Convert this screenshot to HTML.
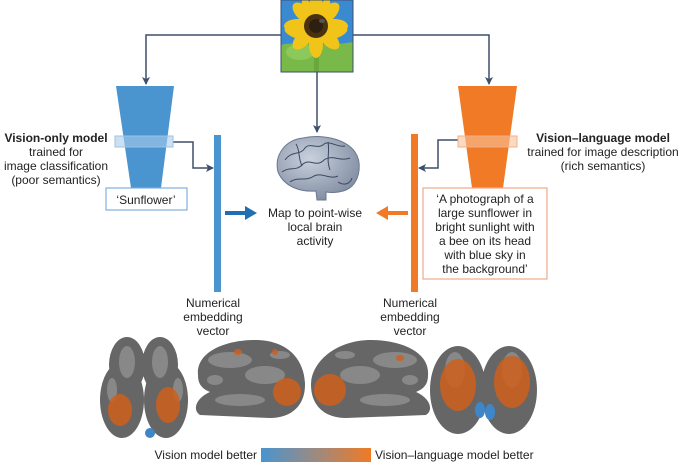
<!DOCTYPE html>
<html><head><meta charset="utf-8"><style>
html,body{margin:0;padding:0;background:#fff;}
svg{display:block;font-family:"Liberation Sans",sans-serif;}
</style></head><body>
<svg width="685" height="463" viewBox="0 0 685 463" xmlns="http://www.w3.org/2000/svg">
<defs>
<marker id="ah" markerWidth="8" markerHeight="8" refX="7" refY="4" orient="auto" markerUnits="userSpaceOnUse"><path d="M0,0 L8,4 L0,8 L2,4 Z" fill="#3d4f6b"/></marker>
<linearGradient id="cb" x1="0" x2="1"><stop offset="0" stop-color="#4a94cf"/><stop offset="0.5" stop-color="#9c8a80"/><stop offset="1" stop-color="#f07a25"/></linearGradient>
<radialGradient id="br" cx="0.4" cy="0.35" r="0.7"><stop offset="0" stop-color="#c9d1dd"/><stop offset="1" stop-color="#7f8ba0"/></radialGradient>
<clipPath id="imgc"><rect x="281" y="0" width="72" height="72"/></clipPath>
</defs>
<!-- sunflower image -->
<g clip-path="url(#imgc)">
<rect x="281" y="0" width="72" height="72" fill="#3a8ad2"/>
<path d="M281,45 C300,40 320,48 353,42 V72 H281 Z" fill="#78b94a"/>
<ellipse cx="300" cy="52" rx="14" ry="8" fill="#8cc95a"/>
<rect x="314" y="40" width="5" height="32" fill="#6aa83e"/>
<g fill="#f0c419">
<ellipse cx="316" cy="8" rx="7" ry="14"/><ellipse cx="316" cy="44" rx="7" ry="14"/>
<ellipse cx="298" cy="26" rx="14" ry="7"/><ellipse cx="334" cy="26" rx="14" ry="7"/>
<ellipse cx="303" cy="13" rx="7" ry="13" transform="rotate(-45 303 13)"/>
<ellipse cx="329" cy="13" rx="7" ry="13" transform="rotate(45 329 13)"/>
<ellipse cx="303" cy="39" rx="7" ry="13" transform="rotate(45 303 39)"/>
<ellipse cx="329" cy="39" rx="7" ry="13" transform="rotate(-45 329 39)"/>
<ellipse cx="308" cy="10" rx="5" ry="12" transform="rotate(-20 308 10)"/>
<ellipse cx="324" cy="10" rx="5" ry="12" transform="rotate(20 324 10)"/>
<ellipse cx="296" cy="33" rx="12" ry="5" transform="rotate(20 296 33)"/>
<ellipse cx="336" cy="33" rx="12" ry="5" transform="rotate(-20 336 33)"/>
</g>
<circle cx="316" cy="26" r="12" fill="#4a3210"/>
<circle cx="316" cy="26" r="7" fill="#2e2010"/>
<ellipse cx="322" cy="21" rx="3" ry="2" fill="#555"/>
</g>
<rect x="281" y="0" width="72" height="72" fill="none" stroke="#3d4f6b" stroke-width="1"/>
<!-- connectors -->
<g stroke="#3d4f6b" stroke-width="1.5" fill="none">
<path d="M281,35 H146 V84" marker-end="url(#ah)"/>
<path d="M353,35 H489 V84" marker-end="url(#ah)"/>
<path d="M317,72 V132" marker-end="url(#ah)"/>
<path d="M173,142 H193 V168 H213" marker-end="url(#ah)"/>
<path d="M458,140 H438 V168 H419" marker-end="url(#ah)"/>
</g>
<!-- trapezoids -->
<polygon points="116,86 174,86 161,188 131,188" fill="#4a94cf"/>
<polygon points="458,86 517,86 503,188 472,188" fill="#f07a25"/>
<rect x="115" y="136" width="58" height="11" fill="#a9cbe9" fill-opacity="0.6" stroke="#9cc3e6" stroke-width="1"/>
<rect x="458" y="136" width="59" height="11" fill="#f8c29c" fill-opacity="0.6" stroke="#f3b083" stroke-width="1"/>
<!-- bars -->
<rect x="214" y="135" width="7" height="157" fill="#4a94cf"/>
<rect x="411" y="134" width="7" height="158" fill="#f07a25"/>
<!-- arrows -->
<path d="M225,211 H245 V206 L257,213 L245,220 V215 H225 Z" fill="#1f6fb2"/>
<path d="M408,211 H388 V206 L376,213 L388,220 V215 H408 Z" fill="#f07a25"/>
<!-- brain icon -->
<path d="M278,172 C274,155 285,140 303,138 C320,134 345,138 355,152 C362,162 360,178 352,186 C345,193 332,193 326,192 L326,200 L317,200 L316,191 C302,192 285,188 278,172 Z" fill="url(#br)" stroke="#6a7790" stroke-width="1"/>
<g stroke="#3b4860" stroke-width="1" fill="none">
<path d="M285,160 C292,150 300,156 305,148 C310,142 318,150 324,144 C330,140 338,148 345,146"/>
<path d="M282,172 C290,166 296,172 303,164 C310,158 316,168 324,160 C332,154 340,162 350,158"/>
<path d="M290,182 C298,176 306,182 314,176 C322,172 330,180 338,176"/>
<path d="M296,144 C300,150 298,158 302,166"/><path d="M328,142 C330,152 326,160 330,170"/>
<path d="M338,182 C344,186 350,184 352,178"/>
</g>
<!-- texts -->
<g font-size="12" fill="#222" text-anchor="middle">
<text x="56" y="142" font-weight="bold">Vision-only model</text>
<text x="56" y="156">trained for</text>
<text x="56" y="170">image classification</text>
<text x="56" y="184">(poor semantics)</text>
<text x="603" y="142" font-weight="bold">Vision–language model</text>
<text x="603" y="156">trained for image description</text>
<text x="603" y="170">(rich semantics)</text>
<text x="146" y="204">‘Sunflower’</text>
<text x="315" y="217">Map to point-wise</text>
<text x="315" y="231">local brain</text>
<text x="315" y="245">activity</text>
<text x="485" y="203">‘A photograph of a</text>
<text x="485" y="217">large sunflower in</text>
<text x="485" y="231">bright sunlight with</text>
<text x="485" y="245">a bee on its head</text>
<text x="485" y="259">with blue sky in</text>
<text x="485" y="273">the background’</text>
<text x="213" y="307">Numerical</text>
<text x="213" y="321">embedding</text>
<text x="213" y="335">vector</text>
<text x="410" y="307">Numerical</text>
<text x="410" y="321">embedding</text>
<text x="410" y="335">vector</text>
</g>
<rect x="106" y="188" width="81" height="22" fill="none" stroke="#7fb0dc" stroke-width="1.2"/>
<rect x="423" y="188" width="124" height="91" fill="none" stroke="#eeab8c" stroke-width="1.2"/>
<!-- cortical brains -->
<g fill="#666">
<ellipse cx="127" cy="365" rx="18" ry="28"/><ellipse cx="160" cy="365" rx="18" ry="28"/>
<ellipse cx="122" cy="400" rx="22" ry="38"/><ellipse cx="166" cy="400" rx="22" ry="38"/>
<path d="M198,375 C196,352 225,340 255,340 C290,340 305,362 305,385 C305,405 292,418 270,418 L200,415 C192,410 196,398 210,392 C200,388 198,382 198,375 Z"/>
<path d="M428,375 C430,352 401,340 371,340 C336,340 311,362 311,385 C311,405 324,418 346,418 L426,415 C434,410 430,398 416,392 C426,388 428,382 428,375 Z"/>
<ellipse cx="458" cy="390" rx="28" ry="44"/><ellipse cx="509" cy="390" rx="28" ry="44"/>
</g>
<g fill="#8c8c8c" opacity="0.9">
<ellipse cx="127" cy="362" rx="8" ry="16"/><ellipse cx="160" cy="362" rx="8" ry="16"/>
<ellipse cx="112" cy="390" rx="5" ry="12"/><ellipse cx="178" cy="390" rx="5" ry="12"/>
<ellipse cx="230" cy="360" rx="22" ry="8"/><ellipse cx="265" cy="375" rx="20" ry="9"/><ellipse cx="240" cy="400" rx="25" ry="6"/>
<ellipse cx="215" cy="380" rx="8" ry="5"/><ellipse cx="280" cy="355" rx="10" ry="4"/>
<ellipse cx="395" cy="360" rx="22" ry="8"/><ellipse cx="360" cy="375" rx="20" ry="9"/><ellipse cx="385" cy="400" rx="25" ry="6"/>
<ellipse cx="410" cy="380" rx="8" ry="5"/><ellipse cx="345" cy="355" rx="10" ry="4"/>
<ellipse cx="455" cy="370" rx="10" ry="18"/><ellipse cx="512" cy="370" rx="10" ry="18"/>
</g>
<g fill="#cf5f1c" opacity="0.85">
<ellipse cx="120" cy="410" rx="12" ry="16"/><ellipse cx="168" cy="405" rx="12" ry="18"/>
<ellipse cx="287" cy="392" rx="14" ry="14"/><ellipse cx="238" cy="352" rx="4" ry="3"/><ellipse cx="275" cy="352" rx="3" ry="3"/>
<ellipse cx="330" cy="390" rx="16" ry="16"/><ellipse cx="400" cy="358" rx="4" ry="3"/>
<ellipse cx="458" cy="385" rx="18" ry="26"/><ellipse cx="512" cy="382" rx="18" ry="26"/>
</g>
<g fill="#3f86c8">
<ellipse cx="150" cy="433" rx="5" ry="5"/><ellipse cx="480" cy="410" rx="5" ry="8"/><ellipse cx="490" cy="412" rx="5" ry="8"/>
</g>
<!-- colorbar -->
<rect x="261" y="448" width="110" height="14" fill="url(#cb)"/>
<g font-size="12" fill="#222">
<text x="257" y="459" text-anchor="end">Vision model better</text>
<text x="375" y="459">Vision–language model better</text>
</g>
</svg>
</body></html>
